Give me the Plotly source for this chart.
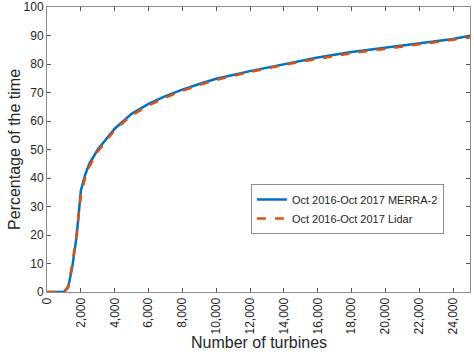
import plotly.graph_objects as go

turbines = [0, 500, 1000, 1250, 1500, 1750, 2000, 2250, 2500, 3000, 3500, 4000, 5000, 6000,
            7000, 8000, 9000, 10000, 12000, 14000, 16000, 18000, 20000, 22000, 24000, 25000]
merra2 = [0, 0, 0, 1.5, 9, 19.5, 35.5, 41, 45, 50, 53.5, 57.3, 62.5, 66,
          68.7, 71, 73, 74.8, 77.5, 80, 82.3, 84.2, 85.8, 87.3, 88.8, 89.9]
lidar = [0, 0, 0, 2, 10, 20.5, 34, 40, 44, 49.3, 53, 56.8, 62, 65.4,
         68.2, 70.6, 72.6, 74.4, 77.2, 79.7, 81.8, 83.8, 85.3, 86.8, 88.3, 89.3]
x_ticks = list(range(0, 24001, 2000))
y_ticks = list(range(0, 101, 10))

fig = go.Figure()
fig.add_trace(go.Scatter(x=turbines, y=merra2, mode="lines",
                         name="Oct 2016-Oct 2017 MERRA-2",
                         line=dict(color="#0072BD", width=2.5)))
fig.add_trace(go.Scatter(x=turbines, y=lidar, mode="lines",
                         name="Oct 2016-Oct 2017 Lidar",
                         line=dict(color="#D95319", width=2.5, dash="dash")))

axis_common = dict(showgrid=False, zeroline=False, showline=True, mirror="ticks",
                   linecolor="#8c8c8c", linewidth=1, ticks="inside", ticklen=4,
                   tickcolor="#555555", automargin=False,
                   tickfont=dict(family="Liberation Sans, Arial", size=12, color="#262626"))

fig.update_layout(
    width=474, height=355,
    margin=dict(l=47, r=4, t=7, b=63),
    paper_bgcolor="white", plot_bgcolor="white",
    font=dict(family="Liberation Sans, Arial", color="#262626"),
    xaxis=dict(range=[0, 25000], tickvals=x_ticks, tickformat=",d", tickangle=-90,
               **axis_common),
    yaxis=dict(range=[0, 100], tickvals=y_ticks, **axis_common),
    legend=dict(x=0.482, y=0.379, xanchor="left", yanchor="top",
                bordercolor="#8c8c8c", borderwidth=1, bgcolor="white",
                font=dict(size=11, color="#262626"), tracegroupgap=0),
    showlegend=True,
    annotations=[
        dict(text="Number of turbines", xref="paper", yref="paper", x=0.5, y=-0.178,
             xanchor="center", yanchor="middle", showarrow=False,
             font=dict(size=16, color="#262626")),
        dict(text="Percentage of the time", xref="paper", yref="paper", x=-0.077, y=0.5,
             xanchor="center", yanchor="middle", textangle=-90, showarrow=False,
             font=dict(size=16, color="#262626")),
    ],
)

fig.write_html("out.html", config={"displayModeBar": False},
               post_script="document.body.style.margin='0';document.body.style.padding='0';")
